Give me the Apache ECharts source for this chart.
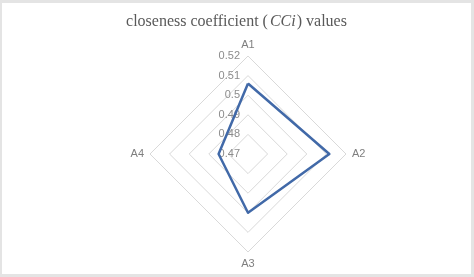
<!DOCTYPE html>
<html>
<head>
<meta charset="utf-8">
<script src="https://cdn.jsdelivr.net/npm/echarts@6/dist/echarts.min.js"></script>
<style>
html,body{margin:0;padding:0;background:#e4e4e4;width:474px;height:277px;overflow:hidden;}
#c{position:absolute;left:2px;top:3px;width:469px;height:271px;background:#fff;}
</style>
</head>
<body>
<div id="c"></div>
<script>
var categories = ['A1', 'A2', 'A3', 'A4'];
var cciValues = [0.506, 0.5115, 0.500, 0.485];
var axisMin = 0.47;
var axisMax = 0.52;
var splitCount = 5;

// ECharts radar runs counter-clockwise; reorder so A1..A4 go clockwise (top, right, bottom, left)
var order = [0, 3, 2, 1];
var drawCats = order.map(function (k) { return categories[k]; });
var drawVals = order.map(function (k) { return cciValues[k]; });

var chart = echarts.init(document.getElementById('c'), null, {renderer: 'canvas'});
chart.setOption({
  animation: false,
  backgroundColor: '#ffffff',
  title: {
    text: 'closeness coefficient ({i|CCi}) values',
    left: 'center',
    top: 6,
    textStyle: {
      fontFamily: 'Liberation Serif',
      fontSize: 16,
      fontWeight: 'normal',
      color: '#595959',
      rich: {
        i: {fontFamily: 'Liberation Serif', fontStyle: 'italic', fontSize: 16, color: '#595959', padding: [0, 1, 0, 2]}
      }
    }
  },
  radar: {
    center: [246, 151],
    radius: 98,
    startAngle: 90,
    shape: 'polygon',
    splitNumber: splitCount,
    nameGap: 6,
    axisName: {color: '#7f7f7f', fontSize: 11, fontFamily: 'Liberation Sans'},
    indicator: drawCats.map(function (n, i) {
      var o = {name: n, min: axisMin, max: axisMax};
      if (i === 0) {
        o.axisLabel = {show: true};
      }
      return o;
    }),
    axisLine: {show: false},
    axisTick: {show: false},
    splitLine: {lineStyle: {color: '#d9d9d9', width: 1}},
    splitArea: {show: false},
    axisLabel: {
      show: false,
      color: '#8c8c8c',
      fontSize: 11,
      fontFamily: 'Liberation Sans',
      margin: 8,
      showMinLabel: true,
      formatter: function (v) { return parseFloat(v.toFixed(2)).toString(); }
    }
  },
  series: [{
    type: 'radar',
    symbol: 'none',
    lineStyle: {color: '#4169a8', width: 2.5},
    data: [{value: drawVals, name: 'CCi'}]
  }]
});
</script>
</body>
</html>
